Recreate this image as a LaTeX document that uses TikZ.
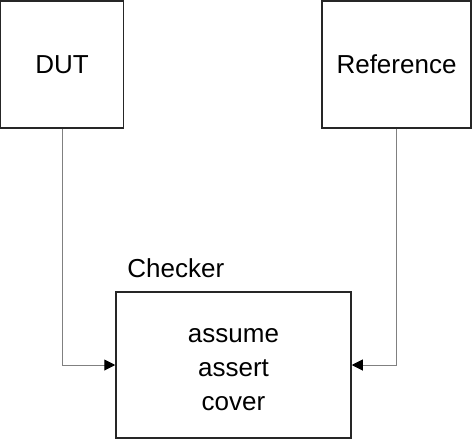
\documentclass[tikz,border=0pt]{standalone}
\usepackage{fontspec}
\setmainfont{Liberation Sans}
\usetikzlibrary{arrows.meta,positioning}

\begin{document}
\begin{tikzpicture}[x=1pt,y=-1pt,
  every node/.style={font=\fontsize{26}{34}\selectfont},
  blk/.style={draw=black!85,line width=1.5pt,inner sep=0pt},
  conn/.style={draw=black!50,line width=1pt,-{Triangle[length=11pt,width=11pt,color=black]}}]
  \useasboundingbox (0,0) rectangle (474,439);

  \node[blk,minimum width=123pt,minimum height=127pt] (dut) at (62,64.5) {DUT};
  \node[blk,minimum width=149pt,minimum height=127pt] (ref) at (396.5,64.5) {Reference};
  \node[blk,minimum width=235pt,minimum height=146pt,
    label={[align=center,yshift=-5pt]center:assume\\assert\\cover}] (chk) at (233.5,365) {};
  \node[anchor=base west,inner sep=0pt] (chklbl) at ([shift={(12,-14)}]chk.north west) {Checker};

  \draw[conn] (dut) |- (chk);
  \draw[conn] (ref) |- (chk);
\end{tikzpicture}
\end{document}
